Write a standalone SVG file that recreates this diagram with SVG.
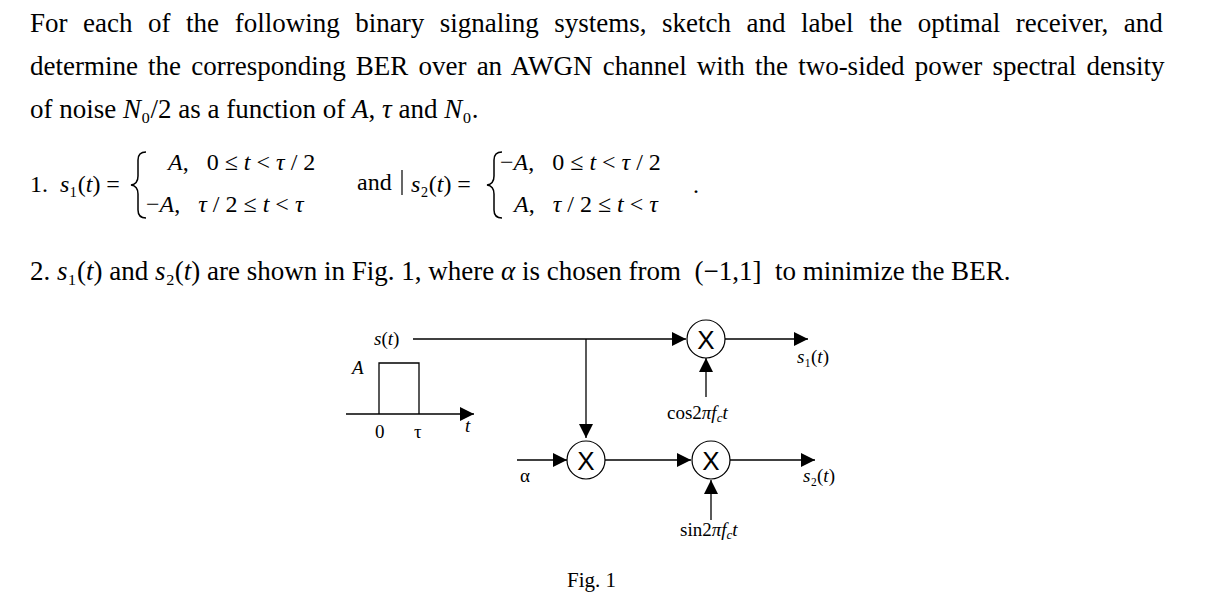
<svg xmlns="http://www.w3.org/2000/svg" width="1215" height="597" viewBox="0 0 1215 597">
<style>
text{font-family:"Liberation Serif","DejaVu Serif",serif;fill:#000}
.p{font-size:27px}
.m{font-size:24px}
.f{font-size:19px}
.i{font-style:italic}
.ln{stroke:#000;stroke-width:1.3;fill:none}
.br{stroke:#000;stroke-width:1.5;fill:none}
.c{fill:#fff;stroke:#000;stroke-width:1.2}
.x{font-family:"Liberation Sans",sans-serif;font-size:26px;text-anchor:middle}
</style>
<defs><marker id="a" viewBox="0 0 10 10" refX="10" refY="5" markerWidth="18" markerHeight="14" markerUnits="userSpaceOnUse" orient="auto"><path d="M0,0L10,5L0,10z"/></marker></defs>
<rect width="1215" height="597" fill="#fff"/>
<text class="p" x="30" y="32" word-spacing="8.8">For each of the following binary signaling systems, sketch and label the optimal receiver, and</text>
<text class="p" x="30" y="75" word-spacing="3.4">determine the corresponding BER over an AWGN channel with the two-sided power spectral density</text>
<text class="p" x="30" y="118">of noise <tspan class="i">N</tspan>₀/2 as a function of <tspan class="i">A</tspan>, <tspan class="i">τ</tspan> and <tspan class="i">N</tspan>₀.</text>
<g id="eq1">
<text class="m" x="30" y="192" xml:space="preserve">1.  <tspan class="i">s</tspan>₁(<tspan class="i">t</tspan>) =</text>
<path class="br" d="M146,152 Q138,152 138,160 V176 Q138,184 131,185 Q138,186 138,194 V210 Q138,218 146,218"/>
<text class="m" x="168" y="170" xml:space="preserve"><tspan class="i">A</tspan>,   0 ≤ <tspan class="i">t</tspan> &lt; <tspan class="i">τ</tspan> / 2</text>
<text class="m" x="146" y="212" xml:space="preserve">−<tspan class="i">A</tspan>,   <tspan class="i">τ</tspan> / 2 ≤ <tspan class="i">t</tspan> &lt; <tspan class="i">τ</tspan></text>
<text class="m" x="357" y="190">and</text>
<line x1="402" y1="170" x2="402" y2="195" stroke="#000" stroke-width="1.2"/>
<text class="m" x="411" y="192" xml:space="preserve"><tspan class="i">s</tspan>₂(<tspan class="i">t</tspan>) =</text>
<path class="br" d="M502,152 Q494,152 494,160 V176 Q494,184 487,185 Q494,186 494,194 V210 Q494,218 502,218"/>
<text class="m" x="500" y="170" xml:space="preserve">−<tspan class="i">A</tspan>,   0 ≤ <tspan class="i">t</tspan> &lt; <tspan class="i">τ</tspan> / 2</text>
<text class="m" x="514" y="212" xml:space="preserve"><tspan class="i">A</tspan>,   <tspan class="i">τ</tspan> / 2 ≤ <tspan class="i">t</tspan> &lt; <tspan class="i">τ</tspan></text>
<text class="m" x="693" y="193">.</text>
</g>
<text class="p" x="30" y="280" xml:space="preserve">2. <tspan class="i">s</tspan>₁(<tspan class="i">t</tspan>) and <tspan class="i">s</tspan>₂(<tspan class="i">t</tspan>) are shown in Fig. 1, where <tspan class="i">α</tspan> is chosen from  (−1,1]  to minimize the BER.</text>
<g id="connectors">
<path class="ln" d="M413,339H686" marker-end="url(#a)"/>
<path class="ln" d="M586,339V438" marker-end="url(#a)"/>
<path class="ln" d="M725,339H808" marker-end="url(#a)"/>
<path class="ln" d="M706,397V358" marker-end="url(#a)"/>
<path class="ln" d="M517,460H567" marker-end="url(#a)"/>
<path class="ln" d="M605,460H691" marker-end="url(#a)"/>
<path class="ln" d="M730,460H815" marker-end="url(#a)"/>
<path class="ln" d="M711,520V480" marker-end="url(#a)"/>
<path class="ln" d="M346,414H474" marker-end="url(#a)"/>
<path class="ln" d="M379,414V363H419V414"/>
</g>
<g id="mult1"><circle class="c" cx="706" cy="339" r="19"/><text class="x" x="706" y="349">X</text></g>
<g id="mult2"><circle class="c" cx="586" cy="460" r="19"/><text class="x" x="586" y="470">X</text></g>
<g id="mult3"><circle class="c" cx="711" cy="460" r="19"/><text class="x" x="711" y="470">X</text></g>
<g id="labels">
<text class="f" x="374" y="345"><tspan class="i">s</tspan>(<tspan class="i">t</tspan>)</text>
<text class="f i" x="352" y="374">A</text>
<text class="f" x="375" y="438">0</text>
<text class="f" x="414" y="438">τ</text>
<text class="f i" x="465" y="432">t</text>
<text class="f" x="797" y="363"><tspan class="i">s</tspan>₁(<tspan class="i">t</tspan>)</text>
<text class="f" x="520" y="482">α</text>
<text class="f" x="803" y="482"><tspan class="i">s</tspan>₂(<tspan class="i">t</tspan>)</text>
<text class="f" x="667" y="419">cos2<tspan class="i">πf</tspan><tspan font-size="13" class="i" dy="3">c</tspan><tspan class="i" dy="-3">t</tspan></text>
<text class="f" x="680" y="536">sin2<tspan class="i">πf</tspan><tspan font-size="13" class="i" dy="3">c</tspan><tspan class="i" dy="-3">t</tspan></text>
<text x="567" y="587" font-size="21">Fig. 1</text>
</g>
</svg>
